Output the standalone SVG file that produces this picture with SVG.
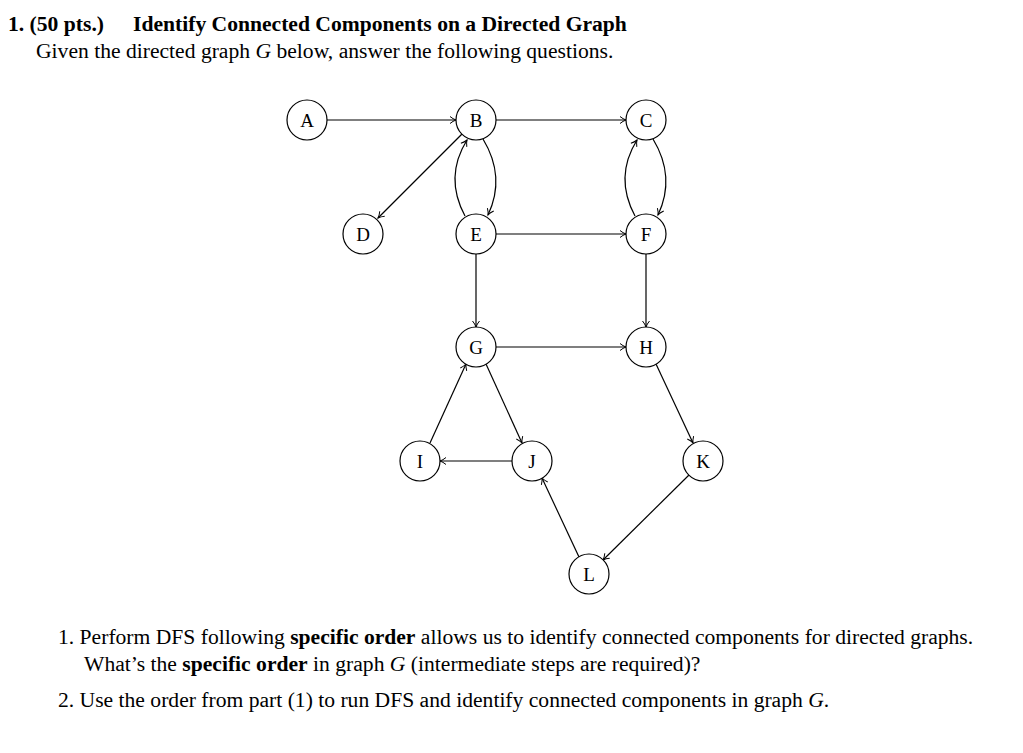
<svg xmlns="http://www.w3.org/2000/svg" width="1023" height="753" viewBox="0 0 1023 753">
<style>
text{font-family:"Liberation Serif",serif;fill:#000}
.t{font-size:21.6px}
.n{font-size:19px;text-anchor:middle}
circle{fill:#fff;stroke:#000;stroke-width:1.2}
.e{fill:none;stroke:#000;stroke-width:1.2;marker-end:url(#a)}
</style>
<defs><marker id="a" markerWidth="10" markerHeight="10" refX="8" refY="5" orient="auto" markerUnits="userSpaceOnUse"><path d="M2,1.5 Q5,4 8,5 Q5,6 2,8.5" fill="none" stroke="#000" stroke-width="1"/></marker></defs>
<rect width="1023" height="753" fill="#fff"/>
<text class="t" x="8" y="31" font-weight="bold">1. (50 pts.)</text>
<text class="t" x="133" y="31" font-weight="bold">Identify Connected Components on a Directed Graph</text>
<text class="t" x="36" y="58">Given the directed graph <tspan font-style="italic">G</tspan> below, answer the following questions.</text>
<g id="edges">
<path class="e" d="M327,120 H456"/>
<path class="e" d="M496,120 H626"/>
<path class="e" d="M462,134 L378,218"/>
<path class="e" d="M483,139 Q506,177 488,215"/>
<path class="e" d="M465,216 Q444,177 467,140"/>
<path class="e" d="M653,139 Q676,177 658,215"/>
<path class="e" d="M635,216 Q614,177 637,140"/>
<path class="e" d="M496,234 H626"/>
<path class="e" d="M476,254 V327"/>
<path class="e" d="M646,254 V327"/>
<path class="e" d="M496,347 H626"/>
<path class="e" d="M486,364 L522,443"/>
<path class="e" d="M430,443 L466,364"/>
<path class="e" d="M512,461 H440"/>
<path class="e" d="M656,364 L693,443"/>
<path class="e" d="M689,475 L603,560"/>
<path class="e" d="M579,557 L542,478"/>
</g>
<g id="A"><circle cx="307" cy="120" r="20"/><text class="n" x="307" y="127">A</text></g>
<g id="B"><circle cx="476" cy="120" r="20"/><text class="n" x="476" y="127">B</text></g>
<g id="C"><circle cx="646" cy="120" r="20"/><text class="n" x="646" y="127">C</text></g>
<g id="D"><circle cx="363" cy="234" r="20"/><text class="n" x="363" y="241">D</text></g>
<g id="E"><circle cx="476" cy="234" r="20"/><text class="n" x="476" y="241">E</text></g>
<g id="F"><circle cx="646" cy="234" r="20"/><text class="n" x="646" y="241">F</text></g>
<g id="G"><circle cx="476" cy="347" r="20"/><text class="n" x="476" y="354">G</text></g>
<g id="H"><circle cx="646" cy="347" r="20"/><text class="n" x="646" y="354">H</text></g>
<g id="I"><circle cx="420" cy="461" r="20"/><text class="n" x="420" y="468">I</text></g>
<g id="J"><circle cx="532" cy="461" r="20"/><text class="n" x="532" y="468">J</text></g>
<g id="K"><circle cx="703" cy="461" r="20"/><text class="n" x="703" y="468">K</text></g>
<g id="L"><circle cx="589" cy="574" r="20"/><text class="n" x="589" y="581">L</text></g>
<text class="t" x="58" y="644">1.  Perform DFS following <tspan font-weight="bold">specific order</tspan> allows us to identify connected components for directed graphs.</text>
<text class="t" x="84" y="671">What’s the <tspan font-weight="bold">specific order</tspan> in graph <tspan font-style="italic">G</tspan> (intermediate steps are required)?</text>
<text class="t" x="58" y="707">2.  Use the order from part (1) to run DFS and identify connected components in graph <tspan font-style="italic">G</tspan>.</text>
</svg>
